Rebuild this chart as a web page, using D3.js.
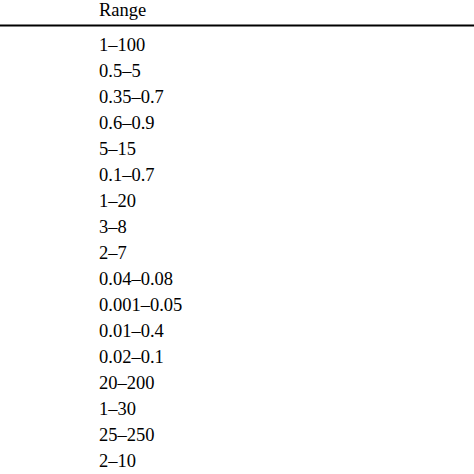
<!DOCTYPE html>
<html><head><meta charset="utf-8">
<script src="https://cdn.jsdelivr.net/npm/d3@7"></script>
<style>body{margin:0;background:#fff}</style>
</head><body>
<svg width="474" height="474"></svg>
<script>
const header = 'Range';
const ranges = ['1–100', '0.5–5', '0.35–0.7', '0.6–0.9', '5–15', '0.1–0.7', '1–20', '3–8', '2–7',
  '0.04–0.08', '0.001–0.05', '0.01–0.4', '0.02–0.1', '20–200', '1–30', '25–250', '2–10'];

const svg = d3.select('svg');
const font = '"Liberation Serif", "Times New Roman", serif';

const y = d3.scaleBand()
  .domain(d3.range(ranges.length))
  .range([32, 474]);

svg.append('text')
  .attr('x', 99).attr('y', 16)
  .attr('font-family', font).attr('font-size', 18.5)
  .text(header);

svg.append('line')
  .attr('x1', 0).attr('x2', 474)
  .attr('y1', 25.5).attr('y2', 25.5)
  .attr('stroke', '#000').attr('stroke-width', 1.8);

svg.selectAll('text.row')
  .data(ranges)
  .enter()
  .append('text')
  .attr('class', 'row')
  .attr('x', 99)
  .attr('y', (d, i) => y(i) + y.bandwidth() / 2 + 6)
  .attr('font-family', font).attr('font-size', 18.5)
  .text(d => d);
</script>
</body></html>
